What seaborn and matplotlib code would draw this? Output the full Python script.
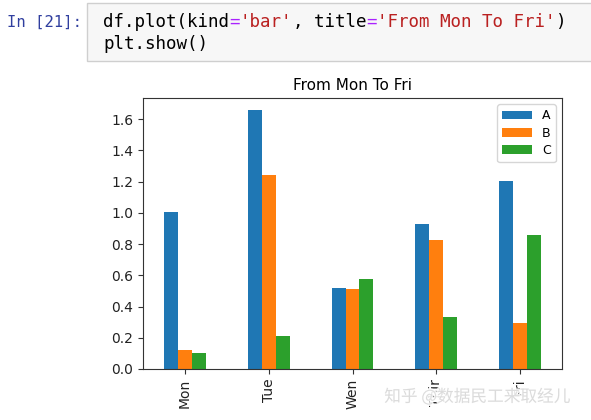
import pandas as pd
import numpy as np
import matplotlib
matplotlib.use('Agg')
import matplotlib.pyplot as plt
import matplotlib.patches as mpatches
import matplotlib.patheffects as pe
import seaborn as sns

# ── data ─────────────────────────────────────────────────────────────────────
days = ['Mon', 'Tue', 'Wen', 'Thir', 'Fri']
a_vals = [1.008, 1.657, 0.521, 0.929, 1.206]
b_vals = [0.122, 1.241, 0.512, 0.824, 0.297]
c_vals = [0.105, 0.209, 0.577, 0.335, 0.856]
series = ['A', 'B', 'C']
colors = ['#1f77b4', '#ff7f0e', '#2ca02c']
yticks = [0.0, 0.2, 0.4, 0.6, 0.8, 1.0, 1.2, 1.4, 1.6]

df = pd.DataFrame({'day': days * 3,
                   'series': ['A'] * 5 + ['B'] * 5 + ['C'] * 5,
                   'value': a_vals + b_vals + c_vals})

W, H = 591, 420
fig = plt.figure(figsize=(W / 100, H / 100), dpi=100)

# ── notebook cell (prompt + code box) ───────────────────────────────────────
fig.patches.append(mpatches.Rectangle((87 / W, 1 - 61 / H), (W - 86) / W, 58 / H,
                                      transform=fig.transFigure, facecolor='#f7f7f7',
                                      edgecolor='#cfcfcf', linewidth=1))
mono = 'DejaVu Sans Mono'
fs_code = 12.6
cw = 0.602 * fs_code * 100 / 72  # char width in px
fig.text(7 / W, 1 - 22 / H, 'In [21]:', family=mono, fontsize=11.2,
         color='#303F9F', va='center', ha='left')

line1 = [("df.plot(kind", '#000000'), ("=", '#AA22FF'), ("'bar'", '#BA2121'),
         (", title", '#000000'), ("=", '#AA22FF'), ("'From Mon To Fri'", '#BA2121'),
         (")", '#000000')]
x0 = 103
for piece, col in line1:
    fig.text(x0 / W, 1 - 22 / H, piece, family=mono, fontsize=fs_code,
             color=col, va='center', ha='left')
    x0 += cw * len(piece)
fig.text(103 / W, 1 - 44 / H, 'plt.show()', family=mono, fontsize=fs_code,
         color='#000000', va='center', ha='left')

# ── bar chart ────────────────────────────────────────────────────────────────
ax = fig.add_axes([143 / W, (H - 369) / H, (562 - 143) / W, (369 - 98) / H])
sns.barplot(data=df, x='day', y='value', hue='series', palette=colors,
            width=0.5, saturation=1, ax=ax, errorbar=None)
ax.set_ylim(0, 1.736)
ax.set_xlim(-0.5, 4.5)
ax.set_yticks(yticks)
ax.set_yticklabels([f'{t:.1f}' for t in yticks])
ax.set_xlabel('')
ax.set_ylabel('')
ax.tick_params(axis='x', labelrotation=90)
ax.tick_params(colors='#333333', labelcolor='#222222')
ax.set_title('From Mon To Fri', fontsize=11)
for s in ax.spines.values():
    s.set_color('#333333')
ax.legend(loc='upper right', title=None, fontsize=9, handlelength=2.4,
          labelspacing=0.35, borderpad=0.4)

# watermark
fig.text(570 / W, 1 - 397 / H, '知乎 @数据民工来取经儿',
         family=['Noto Sans CJK SC', 'DejaVu Sans'], fontsize=12,
         color='#d8d8d8', ha='right', va='center', alpha=0.9,
         path_effects=[pe.withStroke(linewidth=2, foreground='white')])

fig.savefig('out.png', dpi=100)
